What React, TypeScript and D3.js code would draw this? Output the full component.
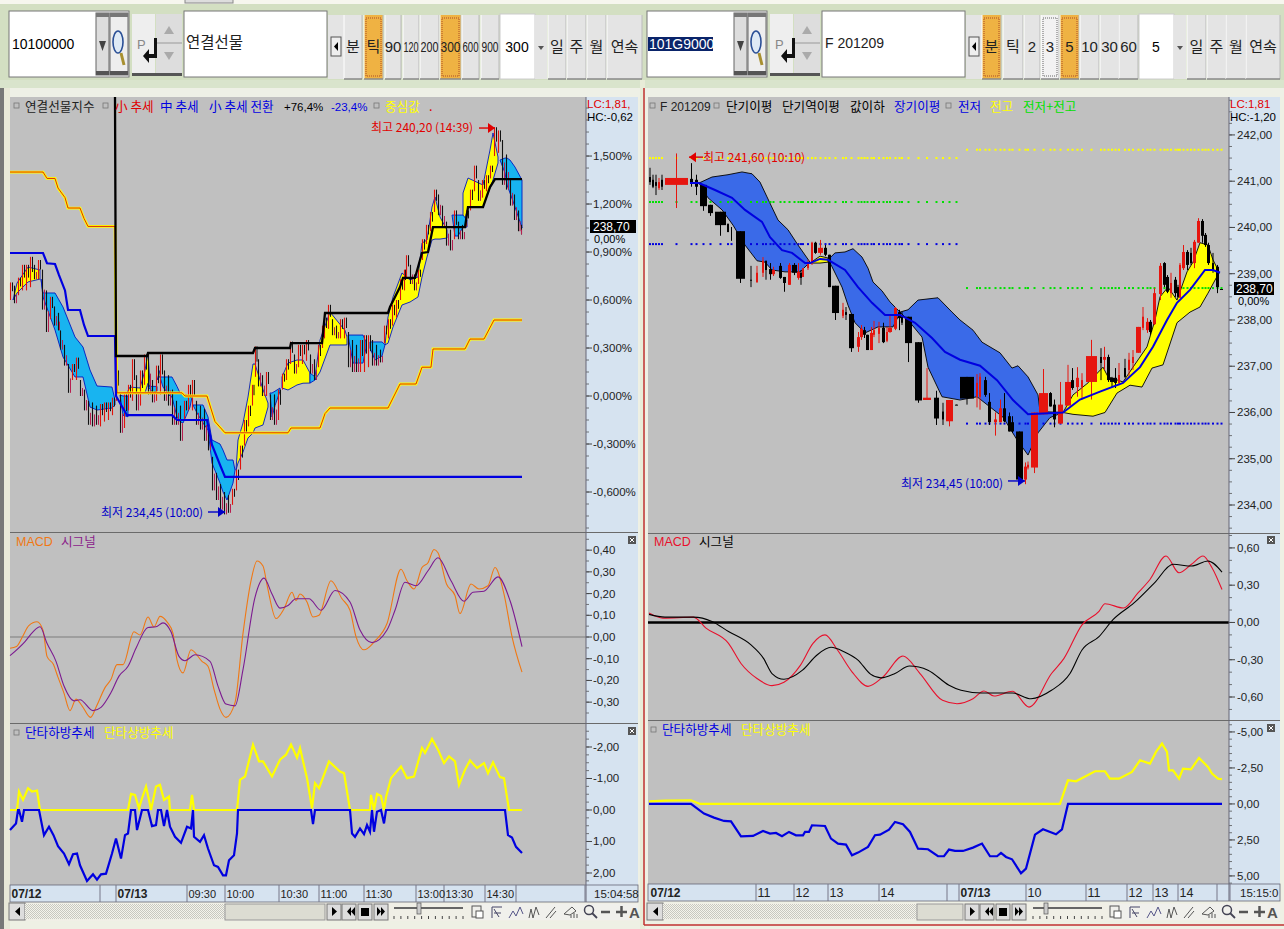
import * as d3 from 'd3';

type P = [number, number];

const KR = "'Noto Sans CJK KR', sans-serif";
const LAT = "'Liberation Sans', sans-serif";

// ---- left chart (연결선물, tick bars) : x is tick count, y is percent
const leftBars: [number, number, number][] = [
  [0,.71,.60],[4,.69,.58],[8,.74,.63],[12,.82,.66],[16,.82,.66],[20,.87,.68],[24,.82,.73],[28,.85,.73],[32,.79,.54],[36,.66,.40],
  [40,.62,.48],[44,.56,.44],[48,.52,.41],[50,.41,.29],[54,.32,.19],[58,.20,.02],[62,.20,.10],[66,.24,.10],[70,.10,0],[74,.04,-.09],
  [78,-.03,-.18],[82,-.04,-.19],[86,-.06,-.18],[90,-.05,-.19],[94,-.04,-.16],[98,-.04,-.15],[102,-.01,-.12],[106,.16,-.03],[110,.01,-.23],[114,.01,-.20],
  [118,.07,-.09],[122,.23,-.03],[126,.13,-.09],[130,.16,-.06],[134,.26,.07],[138,.27,.01],[142,.10,-.04],[146,.19,-.03],[150,.26,.01],[154,.16,-.03],
  [158,.13,-.06],[162,.04,-.18],[166,-.03,-.18],[170,-.06,-.28],[174,-.03,-.15],[178,.07,-.09],[182,.10,-.09],[186,-.03,-.18],[190,-.06,-.21],[194,-.08,-.28],
  [198,-.20,-.34],[202,-.38,-.59],[206,-.48,-.65],[210,-.55,-.71],[214,-.60,-.74],[218,-.62,-.73],[222,-.58,-.68],[226,-.46,-.59],[230,-.31,-.46],[234,-.15,-.31],
  [238,-.06,-.19],[242,.07,-.06],[245,.31,.12],[248,.23,.06],[252,.13,0],[256,.15,0],[260,.01,-.15],[264,.01,-.18],[268,.04,-.15],[272,.14,.04],
  [276,.23,.10],[280,.34,.20],[284,.26,.14],[288,.32,.18],[292,.32,.20],[296,.35,.22],[300,.26,.14],[304,.23,.10],[308,.32,.18],[312,.44,.30],
  [314,.49,.36],[318,.57,.42],[322,.48,.38],[326,.44,.36],[330,.48,.36],[334,.49,.36],[338,.40,.18],[342,.35,.15],[346,.32,.15],[350,.35,.15],
  [354,.38,.15],[358,.38,.18],[362,.35,.19],[366,.32,.19],[370,.29,.21],[374,.44,.33],[378,.48,.36],[382,.57,.44],[386,.60,.49],[390,.73,.60],
  [394,.79,.66],[396,.88,.74],[400,.82,.70],[404,.76,.66],[408,.79,.70],[412,.98,.85],[416,1.07,.95],[420,1.15,1.03],[424,1.29,1.15],[428,1.26,1.13],
  [432,1.19,1.06],[436,1.09,.94],[440,1.04,.91],[444,1.16,.98],[448,1.09,.98],[452,1.07,.98],[456,1.16,1.06],[460,1.29,1.16],[464,1.44,1.28],[468,1.35,1.22],
  [472,1.35,1.24],[476,1.38,1.28],[480,1.44,1.36],[484,1.68,1.50],[488,1.66,1.52],[492,1.60,1.32],[496,1.51,1.29],[500,1.35,1.19],[504,1.26,1.10],[508,1.16,1.03],[511,1.07,1.01],
];

const leftCenter: P[] = [
  [0,1.40],[33,1.40],[37,1.36],[45,1.36],[48,1.30],[55,1.24],[58,1.175],[70,1.175],[74,1.11],[78,1.06],[105,1.06],[106,.40],[107,.02],
  [172,.02],[175,0],[197,0],[205,-.16],[215,-.23],[278,-.23],[281,-.20],[310,-.20],[315,-.11],[320,-.075],[378,-.075],[390,.075],[406,.075],
  [412,.18],[421,.18],[423,.294],[455,.294],[460,.356],[474,.356],[484,.475],[512,.475],
];
const leftSmallTrend: P[] = [
  [0,.894],[33,.894],[37,.83],[45,.825],[49,.756],[55,.66],[58,.5375],[70,.5375],[74,.444],[78,.375],[105,.375],[106,0],[117,-.12],[162,-.12],
  [167,-.15],[187,-.15],[197,-.15],[202,-.306],[210,-.431],[215,-.506],[512,-.506],
];
const leftMidTrend: P[] = [
  [105,1.869],[106,.25],[137,.25],[138,.269],[243,.269],[245,.30],[280,.30],[281,.331],[312,.331],[315,.519],[378,.519],[380,.556],[390,.681],
  [393,.738],[405,.738],[410,.85],[412,.894],[418,.90],[423,1.056],[455,1.056],[458,1.181],[473,1.181],[480,1.306],[485,1.356],[512,1.356],
];

// [x, upper, lower]
const leftRiseClouds: [number, number, number][][] = [
  [[3,.60,.60],[7,.706,.644],[18,.806,.713],[30,.788,.731]],
  [[117,.02,.02],[120,.056,.02],[130,.05,.02],[135,.16,.02],[138,.269,.08],[140,.07,.06]],
  [[147,.1,.1],[150,.16,.125]],
  [[226,-.463,-.463],[228,-.275,-.419],[233,-.169,-.35],[238,-.006,-.2625],[243,.2,-.231],[245,.2,-.2],[253,.04,-.181],[258,-.044,-.069]],
  [[272,.119,.05],[278,.206,.0375],[287,.225,.069],[293,.225,.08],[300,.144,.081]],
  [[305,.12,.1],[310,.35,.15],[320,.525,.319],[335,.41,.319],[337,.369,.32]],
  [[375,.32,.32],[378,.494,.33],[383,.619,.431],[392,.769,.569],[400,.725,.5875],[408,.744,.619],[412,.956,.744],[417,.975,.869],[422,1.181,.975],[425,1.244,.981],[430,1.119,.981],[437,1.0375,.9875]],
  [[453,1.269,1.056],[458,1.3625,1.181],[473,1.319,1.181],[480,1.5375,1.3],[483,1.644,1.35],[488,1.494,1.456]],
];
const leftFallClouds: [number, number, number][][] = [
  [[31,.731,.731],[33,.644,.619],[45,.644,.4125],[53,.556,.244],[65,.369,.119],[73,.306,.119],[80,.1625,-.069],[87,.0625,-.0875],[102,.056,-.075],[105,-.025,-.056]],
  [[110,.006,.006],[113,0,-.12],[118,0,-.13]],
  [[138,.06,.06],[143,.06,.02],[147,.06,.03]],
  [[150,.119,.119],[153,.119,.056],[160,.119,0],[162,.119,-.006],[167,.06,-.131],[170,.019,-.16],[173,.01,-.169],[180,0,-.069],[182,-.006,-.006]],
  [[183,-.056,-.056],[187,-.056,-.106],[193,-.056,-.169],[198,-.131,-.2125],[202,-.275,-.419],[210,-.3,-.544],[213,-.338,-.6],[217,-.4,-.65],[223,-.4,-.544],[225,-.463,-.463]],
  [[260,.019,.019],[262,.019,-.131],[265,.03,-.06],[270,.05,.03]],
  [[300,.144,.081],[305,.12,.1]],
  [[338,.381,.381],[343,.381,.206],[353,.381,.206],[356,.338,.3]],
  [[360,.338,.3],[365,.338,.225],[372,.338,.25],[375,.32,.32]],
  [[442,1.131,1.131],[445,1.131,1.0],[448,1.131,1.0],[453,1.131,1.056],[457,1.1,1.056]],
  [[490,1.475,1.475],[495,1.4875,1.394],[497,1.4875,1.319],[500,1.475,1.269],[505,1.431,1.181],[512,1.35,1.05]],
];

const leftMacd: P[] = [
  [0,-.052],[6.5,-.044],[12.6,.002],[18.8,.052],[27,.07],[33,.032],[37,-.089],[43.5,-.127],[47.6,-.18],[53.8,-.256],[60,-.339],[66,-.286],[72,-.317],[80.5,-.37],[86.7,-.317],
  [95,-.233],[101,-.195],[107,-.127],[113,-.127],[124,.024],[130,.009],[138,.092],[144,.047],[150,.095],[157,.07],[163,.017],[167,-.105],[173,-.165],[181,-.059],[192,-.112],
  [198,-.135],[204,-.241],[210,-.332],[216,-.37],[225,-.302],[233,.017],[241,.259],[247,.35],[253,.327],[257.5,.229],[266,.085],[274,.13],[282,.206],[286,.168],[290,.198],
  [297,.161],[303,.092],[309,.1],[321,.259],[332,.176],[340,.123],[346,.002],[354,-.059],[364.5,-.021],[377,.062],[391,.312],[397,.259],[404,.221],[412,.32],[418,.342],
  [424,.403],[428,.388],[436.5,.244],[445,.191],[450,.108],[461,.244],[469,.221],[478,.236],[485,.32],[494,.198],[502,.002],[512,-.162],
];
const leftSignal: P[] = [
  [0,-.086],[15,-.021],[23,.024],[30,.047],[37,-.029],[46,-.112],[54,-.226],[64,-.294],[70,-.289],[83,-.339],[91,-.324],[101,-.256],[109,-.18],[118,-.135],[126,-.052],
  [138,.044],[146,.047],[153,.065],[161,.024],[169,-.089],[175,-.109],[185,-.082],[200,-.112],[208,-.226],[216,-.309],[225,-.317],[233,-.15],[245,.183],[254,.271],[262,.198],
  [270,.133],[278,.145],[286,.176],[299,.176],[311,.123],[325,.214],[340,.161],[350,.032],[362,-.026],[377,.032],[385,.123],[395,.252],[406,.236],[418,.305],[428,.365],
  [441,.259],[454,.165],[463,.206],[474,.211],[488,.277],[500,.168],[512,-.044],
];

const leftUpTrend: P[] = [
  [0,0],[7,0],[9,-.585],[13,-.32],[18,-.69],[22,-.585],[27,-.617],[30,0],[118,0],[121,-.51],[125,-.479],[129,-.05],[132,-.372],[136,-.745],[139,-.32],[141,0],[146,-.745],[150,-.798],
  [154,-.32],[159,-.426],[160,0],[180,0],[182,-.479],[184,0],[227,0],[230,-.957],[235,-1.064],[243,-2.074],[249,-1.543],[253,-1.543],[262,-1.064],[270,-1.596],[276,-1.755],[281,-2.074],
  [287,-1.66],[290,-1.968],[297,-1.011],[302,-.053],[305,-.851],[309,-.691],[319,-1.543],[330,-1.223],[334,-1.17],[340,0],[360,0],[361,-.479],[364,0],[367,-.511],[371,-.447],[374,0],
  [376,-.404],[381,-1.011],[391,-1.383],[397,-1.011],[404,-1.064],[412,-1.968],[415,-1.809],[422,-2.255],[428,-1.915],[434,-1.489],[439,-1.702],[445,-1.543],[449,-.798],[455,-1.277],
  [460,-1.574],[467,-1.33],[474,-1.489],[478,-1.17],[483,-1.511],[490,-1.043],[494,-1.011],[499,0],[512,0],
];
const leftDownTrend: P[] = [
  [0,.638],[6,.426],[8,0],[9,0],[12,.372],[14,0],[29,0],[34,.798],[39,.532],[43.5,.798],[48,1.149],[54,1.383],[59,1.723],[63,1.404],[67,1.383],[70,1.755],[77,2.255],[83,2.043],[87,2.213],
  [91,2.043],[96,2.021],[99,1.702],[102,1.383],[106,.904],[111,1.543],[115,.798],[118,.745],[121,0],[125,0],[127,.638],[132,0],[138,0],[142,.511],[146,.479],[148,0],[151,0],[154,.511],
  [157,0],[160,.532],[165,.851],[171,1.043],[177,.532],[181,.585],[183,0],[184,.851],[190,1.011],[194,.798],[198,1.223],[204,1.755],[208,1.809],[213,2.074],[216,2.074],[219,1.596],
  [224,1.436],[227,.745],[228,0],[301,0],[303,.447],[305,0],[340,0],[342,.745],[345,.851],[350,.585],[354,.766],[357,.479],[360,.691],[362,0],[364,.691],[367,.053],[371,0],[374,.426],
  [376,0],[495,0],[498,.798],[502,.872],[506,1.17],[512,1.362],
];

const leftPctTicks = [1.5, 1.2, .9, .6, .3, 0, -.3, -.6];
const leftMacdTicks = [.4, .3, .2, .1, 0, -.1, -.2, -.3];
const leftTrendTicks = [-2, -1, 0, 1, 2];
const leftTimeTicks: [number, string, boolean][] = [
  [0,'07/12',true],[106,'07/13',true],[177,'09:30',false],[215,'10:00',false],[269,'10:30',false],[309,'11:00',false],
  [354,'11:30',false],[406,'13:00',false],[434,'13:30',false],[475,'14:30',false],
];
const leftTimeSeps = [90, 106, 177, 215, 269, 309, 354, 406, 434, 475, 506];

// ---- right chart (F 201209, 5 min candles, width follows volume)
// [x0, x1, open, close, low, high]
const candles: [number, number, number, number, number, number][] = [
  [0,2,241.09,240.98,240.92,241.29],[3,5,241.03,240.88,240.85,241.14],[6,8,240.98,240.90,240.70,241.14],[9,11,240.85,240.98,240.81,241.07],[12,14,241.03,240.88,240.81,241.14],
  [16,39,240.92,241.07,240.42,241.60],[41,44,241.05,240.96,240.88,241.39],[46,49,241.03,240.88,240.70,241.14],[51,58,240.92,240.46,240.36,240.92],[59,64,240.49,240.31,240.25,240.49],
  [66,77,240.34,240.05,239.82,240.34],[78,80,240.08,239.90,239.90,240.08],[82,83,239.95,239.94,239.71,240.01],[87,96,239.92,238.89,238.80,239.92],[101,103,238.87,238.86,238.71,239.17],
  [107,109,238.82,239.02,238.80,239.17],[113,115,239.02,239.28,238.93,239.36],[116,118,239.28,239.08,238.87,239.28],[120,123,239.10,238.99,238.87,239.23],[123,126,238.99,239.08,238.95,239.15],
  [130,133,239.17,238.91,238.89,239.23],[134,137,238.93,238.80,238.61,238.93],[139,142,238.76,239.19,238.76,239.23],[143,148,239.19,239.02,238.97,239.23],[148,151,238.91,239.04,238.87,239.23],
  [151,153,239.02,238.91,238.76,239.08],[153,155,238.93,239.12,238.93,239.12],[158,160,239.12,239.23,239.08,239.30],[162,164,239.23,239.67,239.19,239.69],[165,168,239.67,239.45,239.43,239.69],
  [169,174,239.45,239.56,239.41,239.73],[175,178,239.56,239.41,239.38,239.62],[179,182,239.41,238.71,238.71,239.41],[183,190,238.74,238.15,238.00,238.74],[193,195,238.09,238.22,238.04,238.37],
  [196,198,238.17,238.11,238.00,238.28],[200,205,238.13,237.39,237.31,238.13],[208,211,237.42,237.63,237.31,237.74],[211,214,237.63,237.81,237.57,237.89],[214,217,237.78,237.68,237.61,237.85],
  [217,220,237.68,237.35,237.35,237.68],[221,224,237.35,237.72,237.35,237.85],[224,226,237.68,237.78,237.63,237.98],[229,231,237.70,237.83,237.50,237.96],[233,236,237.83,237.52,237.50,237.94],
  [237,239,237.55,237.74,237.52,237.85],[239,243,237.74,237.83,237.72,238.11],[245,248,237.81,238.26,237.78,238.28],[249,252,238.17,238.04,237.78,238.22],[252,254,238.07,237.94,237.89,238.17],
  [256,263,238.07,237.50,237.09,238.07],[266,273,237.52,236.26,236.21,237.52],[274,282,236.27,236.32,236.27,236.96],[285,290,236.32,235.87,235.73,236.47],[293,295,236.02,235.85,235.73,236.21],
  [297,304,235.81,236.27,235.70,236.27],[306,309,236.17,236.16,236.16,236.17],[311,325,236.77,236.30,236.17,236.77],[327,329,236.34,236.64,236.11,236.83],[330,332,236.34,236.77,236.06,236.85],
  [335,338,236.70,236.38,236.34,236.77],[339,342,236.23,235.79,235.73,236.42],[345,348,235.79,235.85,235.50,236.00],[350,353,235.79,236.09,235.79,236.28],[354,357,236.09,235.81,235.79,236.42],
  [359,362,235.92,235.59,235.59,236.00],[362,365,235.79,235.59,235.56,235.92],[367,374,235.59,234.55,234.55,235.59],[375,378,234.55,234.83,234.45,234.92],[378,380,234.81,234.87,234.77,234.94],
  [382,389,234.81,236.00,234.69,236.00],[390,399,235.96,236.42,235.96,236.94],[400,403,236.42,236.13,236.13,236.44],[404,407,236.17,235.85,235.68,236.28],[409,414,235.76,236.17,235.76,236.66],
  [416,422,236.15,236.66,236.15,237.03],[422,425,236.70,236.53,236.49,236.96],[427,430,236.55,236.75,236.34,236.98],[432,434,236.55,236.70,236.28,236.85],[437,448,236.66,237.22,236.28,237.57],
  [451,453,237.20,237.07,236.70,237.39],[454,457,237.14,237.20,236.92,237.42],[458,461,237.20,236.70,236.66,237.25],[461,465,236.75,236.66,236.55,236.77],[465,468,236.75,236.64,236.53,236.96],
  [469,471,236.64,236.81,236.59,237.07],[475,477,236.96,236.77,236.75,237.16],[479,481,236.92,237.14,236.77,237.29],[483,485,237.07,237.20,236.92,237.35],[487,492,237.29,237.85,237.29,237.85],
  [493,495,237.83,238.07,237.78,238.28],[497,500,237.78,237.96,237.72,238.04],[500,503,237.96,237.74,237.68,238.00],[504,507,237.91,238.58,237.89,238.69],[510,513,238.56,239.17,238.43,239.23],
  [514,517,239.23,238.76,238.71,239.25],[517,520,238.93,238.61,238.58,238.97],[521,523,238.58,238.80,238.48,239.02],[525,528,238.87,238.58,238.50,238.93],[528,530,238.71,238.50,238.48,238.76],
  [530,532,238.48,239.19,238.48,239.23],[533,536,239.12,239.47,239.08,239.62],[537,540,239.47,239.19,239.08,239.51],[541,543,239.45,239.23,239.19,239.56],[544,547,239.23,239.69,239.12,239.73],
  [548,551,239.67,240.14,239.67,240.20],[552,555,240.14,239.82,239.67,240.18],[555,558,239.84,239.62,239.58,239.88],[558,561,239.62,239.23,239.19,239.67],[563,565,239.23,239.08,239.02,239.45],
  [567,570,239.15,238.71,238.58,239.19],[571,574,238.67,238.66,238.66,238.67],
];

const fallCloudTops: P[][] = [
  [[50,240.96],[63,241.09],[79,241.14],[93,241.20],[103,241.16],[111,240.98],[118,240.66],[129,240.16],[139,239.95],[149,239.62],[161,239.25]],
  [[179,239.30],[186,239.45],[196,239.47],[204,239.54],[213,239.36],[219,239.12],[224,238.82],[233,238.63],[241,238.39],[251,238.17]],
  [[251,238.17],[259,238.22],[269,238.43],[289,238.48],[303,238.17],[311,238.00],[324,237.78],[333,237.52],[351,237.29],[363,236.96],[369,237.01],[379,236.77],[389,236.38],[391,236.02],[414,236.00]],
];
const fallCloudBottoms: P[][] = [
  [[50,240.96],[59,240.64],[73,240.38],[84,240.05],[96,239.62],[108,239.28],[116,239.25],[123,239.08],[136,239.04],[151,239.04],[161,239.25]],
  [[179,239.30],[183,239.15],[193,238.71],[199,238.32],[206,237.94],[216,237.72],[229,237.85],[244,237.85],[251,238.15]],
  [[251,238.17],[259,238.00],[273,237.63],[279,236.98],[293,236.34],[311,236.27],[328,236.34],[341,236.12],[354,235.90],[368,235.41],[379,235.08],[389,235.56],[401,235.89],[414,236.00]],
];
const riseCloudTops: P[][] = [
  [[161,239.23],[171,239.38],[179,239.34]],
  [[414,236.00],[424,236.38],[439,236.64],[454,236.98],[459,236.77],[474,236.66],[484,236.98],[498,237.42],[506,238.00],[511,238.50],[519,238.71],[528,238.43],[538,239.04],[544,239.25],[551,239.67],[559,239.62],[564,239.30],[570,239.04]],
];
const riseCloudBottoms: P[][] = [
  [[161,239.23],[171,239.23],[179,239.25]],
  [[414,236.00],[424,235.96],[444,235.92],[456,236.00],[468,236.42],[481,236.59],[493,236.55],[503,236.96],[514,237.03],[528,237.94],[541,238.17],[551,238.28],[559,238.58],[570,239.02]],
];
const longAverage: P[] = [
  [41,240.96],[50,240.96],[66,240.81],[83,240.64],[96,240.38],[113,240.12],[121,239.79],[133,239.51],[143,239.45],[156,239.23],[161,239.23],[171,239.32],[179,239.30],
  [196,239.08],[209,238.71],[223,238.37],[236,238.11],[251,238.11],[266,237.94],[283,237.61],[296,237.31],[311,237.14],[331,237.01],[348,236.70],[364,236.27],[379,235.96],[414,236.00],
  [431,236.28],[451,236.45],[474,236.64],[491,236.98],[504,237.42],[518,238.00],[528,238.37],[541,238.65],[556,239.08],[564,239.08],[571,239.02],
];

const prevLow = [239.64, 235.76];
const prevHigh = [241.50, 241.68];
const prevMid = [240.55, 238.69];

const rightMacd: P[] = [
  [0,.076],[14,.035],[44.5,.043],[57,-.046],[79.5,-.168],[92,-.33],[108,-.451],[123,-.508],[135,-.481],[151.5,-.343],[164,-.168],[176,-.1],[188.5,-.222],[203,-.397],[219,-.514],[234,-.438],
  [254,-.27],[271,-.411],[293.5,-.627],[308,-.654],[324,-.614],[335,-.551],[345,-.592],[363.5,-.554],[380,-.681],[402.5,-.411],[415,-.289],[433,-.019],[450,.089],[456,.151],[474.5,.116],
  [489,.238],[501,.346],[517,.535],[530,.4],[542.5,.468],[554,.535],[563,.441],[573,.265],
];
const rightSignal: P[] = [
  [0,.065],[16,.043],[44.5,.043],[63,.008],[79.5,-.073],[102,-.181],[114.5,-.289],[123,-.411],[135,-.457],[153.5,-.384],[168,-.262],[182,-.2],[195,-.235],[209,-.303],[221.5,-.416],[232,-.446],
  [246,-.411],[260.5,-.351],[279,-.384],[300,-.505],[312,-.546],[332.5,-.568],[363.5,-.568],[382,-.614],[402.5,-.546],[421,-.411],[433,-.222],[450,-.114],[464,.022],[485,.157],[505.5,.319],
  [524,.468],[542.5,.454],[559,.495],[573,.405],
];
const rightUpTrend: P[] = [
  [0,-.185],[16,-.231],[42,-.255],[51,0],[411,0],[419,-1.644],[427,-1.574],[446,-2.269],[456,-2.269],[461,-1.759],[470,-1.759],[483,-2.222],[491,-3.032],[501,-2.801],[507,-3.611],[513,-4.19],
  [518,-3.611],[520,-2.338],[524,-2.338],[530,-1.759],[534,-2.454],[542,-2.407],[550,-3.194],[559,-2.569],[563,-2.106],[569,-1.759],[573,-1.713],
];
const rightDownTrend: P[] = [
  [0,0],[42,0],[55,.671],[65,.949],[75,1.181],[82,1.204],[92,2.245],[104,2.222],[114,1.875],[121,2.06],[127,2.014],[133,2.245],[140,1.944],[147,2.176],[154,2.176],[156,1.944],[160,1.944],
  [163,1.481],[176,1.528],[182,2.407],[189,2.755],[197,2.824],[203,3.565],[209,3.38],[219,2.986],[226,2.176],[231,2.13],[240,1.782],[246,1.25],[254,1.412],[261,1.944],[269,3.102],[279,3.148],
  [289,3.634],[295,3.634],[300,3.171],[306,3.264],[314,3.264],[324,3.032],[333,2.755],[341,3.634],[348,3.634],[352,3.403],[357,3.681],[363,3.843],[372,4.815],[377,4.491],[386,2.13],[394,1.759],
  [407,2.106],[413,1.759],[419,0],[573,0],
];

const rightPriceTicks = [242, 241, 240, 239, 238, 237, 236, 235, 234];
const rightMacdTicks = [.6, .3, 0, -.3, -.6];
const rightTrendTicks = [-5, -2.5, 0, 2.5, 5];
const rightTimeTicks: [number, string, boolean][] = [
  [0,'07/12',true],[107,'11',false],[145,'12',false],[179,'13',false],[230,'14',false],[310,'07/13',true],
  [377,'10',false],[437,'11',false],[478,'12',false],[504,'13',false],[529,'14',false],
];
const rightTimeSeps = [107, 145, 179, 230, 298, 310, 377, 437, 478, 504, 529, 568];

// ---- scales
const leftX = d3.scaleLinear().domain([0, 512]).range([10, 522]);
const rightX = d3.scaleLinear().domain([0, 573]).range([649, 1222]);
const leftMainY = d3.scaleLinear().domain([-.85, 1.869]).range([532, 97]);
const leftMacdY = d3.scaleLinear().domain([-.396, .479]).range([723, 533]);
const leftTrendY = d3.scaleLinear().domain([2.381, -2.73]).range([885, 724]);
const rightMainY = d3.scaleLinear().domain([233.395, 242.82]).range([533, 97]);
const rightMacdY = d3.scaleLinear().domain([-.785, .72]).range([720, 533]);
const rightTrendY = d3.scaleLinear().domain([5.56, -5.83]).range([884, 720]);

type Sc = d3.ScaleLinear<number, number>;

const pathOf = (x: Sc, y: Sc, pts: P[], smooth = false) =>
  (smooth ? d3.line<P>().curve(d3.curveMonotoneX) : d3.line<P>())
    .x(d => x(d[0]))
    .y(d => y(d[1]))(pts) ?? '';

const fmt = (v: number, digits: number) =>
  d3.format(`.${digits}f`)(v).replace('.', ',').replace('\u2212', '-');

const Txt = ({ x, y, c = '#000', s = 12, f = KR, w, a, fit, children }: any) => (
  <text x={x} y={y} fill={c} fontSize={s} fontFamily={f} fontWeight={w} textAnchor={a}
    textLength={fit} lengthAdjust={fit ? 'spacingAndGlyphs' : undefined}>{children}</text>
);

const Sq = ({ x, y }: { x: number; y: number }) => (
  <rect x={x} y={y} width={5} height={5} fill="none" stroke="#777" strokeWidth={0.8} />
);

// axis strip to the right of a plot
const Axis = ({ scale, x0, ticks, minor, digits, suffix = '', labelX }: any) => {
  const [lo, hi] = scale.domain();
  const minors = d3.range(Math.ceil(Math.min(lo, hi) / minor), Math.floor(Math.max(lo, hi) / minor) + 1).map((k: number) => k * minor);
  return (
    <g>
      {minors.map((v: number, i: number) => (
        <line key={i} x1={x0} x2={x0 + 3} y1={scale(v)} y2={scale(v)} stroke="#555" strokeWidth={0.8} />
      ))}
      {ticks.map((v: number) => (
        <g key={v}>
          <line x1={x0} x2={x0 + 6} y1={scale(v)} y2={scale(v)} stroke="#444" />
          <Txt x={labelX} y={scale(v) + 4} s={11.5} f={LAT} c="#222">{fmt(v, digits)}{suffix}</Txt>
        </g>
      ))}
    </g>
  );
};

const CloseBox = ({ x, y }: { x: number; y: number }) => (
  <g>
    <rect x={x - 4} y={y - 4} width={8} height={8} fill="#555" />
    <path d={`M${x - 2} ${y - 2}L${x + 2} ${y + 2}M${x + 2} ${y - 2}L${x - 2} ${y + 2}`} stroke="#fff" strokeWidth={1} />
  </g>
);

const Btn = ({ x0, x1, label, on, dotted, y0 = 15, y1 = 79 }: any) => {
  const wide = label.length === 3;
  return (
    <g>
      <rect x={x0} y={y0} width={x1 - x0} height={y1 - y0} fill={on ? '#efb243' : dotted ? '#f2f2f2' : '#e4e4e4'} />
      <line x1={x0} x2={x0} y1={y0} y2={y1} stroke="#fff" />
      <line x1={x1} x2={x1} y1={y0} y2={y1} stroke="#bbb" />
      <line x1={x0} x2={x1} y1={y1} y2={y1} stroke="#888" strokeWidth={1.5} />
      {(on || dotted) && (
        <rect x={x0 + 2} y={y0 + 3} width={x1 - x0 - 4} height={y1 - y0 - 6} fill="none" stroke={on ? '#a03020' : '#444'} strokeWidth={0.8} strokeDasharray="1 1" />
      )}
      <Txt x={(x0 + x1) / 2} y={(y0 + y1) / 2 + 5} s={wide ? 14 : 15} f={/\d/.test(label) ? LAT : KR} a="middle" c="#222"
        fit={wide ? x1 - x0 - 1 : undefined}>{label}</Txt>
    </g>
  );
};

const leftButtons: [number, number, string, boolean?, boolean?][] = [
  [344,362,'분'],[364,383,'틱',true],[385,401,'90'],[403,419,'120'],[420,439,'200'],[440,461,'300',true],[462,479,'600'],[481,499,'900'],
  [548,566,'일'],[567,586,'주'],[587,606,'월'],[607,642,'연속'],
];
const rightButtons: [number, number, string, boolean?, boolean?][] = [
  [982,1001,'분',true],[1003,1023,'틱'],[1024,1040,'2'],[1041,1059,'3',false,true],[1060,1079,'5',true],[1080,1099,'10'],[1100,1119,'30'],[1119,1138,'60'],
  [1187,1206,'일'],[1207,1226,'주'],[1226,1246,'월'],[1246,1280,'연속'],
];

const Toolbar = ({ dx, code, selected, name, nameSize, nameX, buttons, box, boxX }: any) => (
  <g>
    <rect x={9 + dx} y={11} width={120} height={66} fill="#fff" stroke="#777" />
    {selected && <rect x={648} y={37} width={65} height={14} fill="#0a246a" />}
    <Txt x={selected ? 649 : 12} y={49} s={14} f={LAT} c={selected ? '#fff' : '#000'}>{code}</Txt>
    <rect x={96 + dx} y={13} width={13} height={62} fill="#ddd" stroke="#666" />
    <rect x={96 + dx} y={13} width={13} height={4} fill="#777" />
    <rect x={96 + dx} y={71} width={13} height={4} fill="#555" />
    <path d={`M${99 + dx} 41h7l-3.5 10z`} fill="#444" />
    <rect x={110 + dx} y={13} width={18} height={62} fill="#eee" stroke="#666" />
    <rect x={110 + dx} y={13} width={18} height={4} fill="#777" />
    <rect x={110 + dx} y={71} width={18} height={4} fill="#555" />
    <ellipse cx={118 + dx} cy={42} rx={5} ry={11} fill="#dfeaf5" stroke="#2a4f96" strokeWidth={1.6} />
    <line x1={121 + dx} y1={53} x2={124 + dx} y2={65} stroke="#a89030" strokeWidth={3} />
    <rect x={132 + dx} y={14} width={23} height={62} fill="#eee" />
    <rect x={132 + dx} y={73} width={50} height={3} fill="#555" />
    <rect x={156 + dx} y={14} width={26} height={59} fill="#ddd" />
    <path d={`M${164 + dx} 34l5-8 5 8zM${164 + dx} 52l5 8 5-8z`} fill="#aaa" />
    <line x1={156 + dx} x2={182 + dx} y1={43} y2={43} stroke="#bbb" strokeWidth={2} />
    <Txt x={137 + dx} y={49} s={13} f={LAT} c="#888">P</Txt>
    <path d={`M${154 + dx} 38v16h-5v-5l-6 7 6 7v-5h8v-20z`} fill="#111" />
    <rect x={184 + dx} y={11} width={143} height={66} fill="#fff" stroke="#777" />
    <Txt x={nameX} y={48} s={nameSize} f={name.startsWith('F') ? LAT : KR} c="#222">{name}</Txt>
    <rect x={328 + dx} y={15} width={16} height={64} fill="#e4e4e4" />
    <rect x={331 + dx} y={37} width={10} height={19} fill="#eee" stroke="#555" />
    <path d={`M${338 + dx} 42v9l-4-4.5z`} fill="#000" />
    {buttons.map(([a, b, l, on, dot]: any) => (
      <Btn key={a} x0={a} x1={b} label={l} on={on} dotted={dot} />
    ))}
    <rect x={boxX} y={14} width={35} height={65} fill="#fff" stroke="#ccc" />
    <Txt x={boxX + 17} y={52} s={14} f={LAT} a="middle">{box}</Txt>
    <rect x={boxX + 35} y={15} width={12} height={64} fill="#e4e4e4" />
    <path d={`M${boxX + 38} 46h6l-3 4z`} fill="#555" />
  </g>
);

const ScrollBar = ({ x0, thumb0, thumb1, play, sliderX, knob, iconX, plotEnd }: any) => (
  <g>
    <rect x={x0} y={903} width={plotEnd - x0} height={18} fill="#f0efe6" />
    <rect x={x0} y={903} width={16} height={17} fill="#ddd" stroke="#777" />
    <path d={`M${x0 + 11} 907v9l-5-4.5z`} fill="#000" />
    <rect x={x0 + 16} y={904} width={thumb0 - x0 - 16} height={15} fill="url(#dither)" />
    <rect x={thumb0} y={904} width={thumb1 - thumb0} height={16} fill="#dcdcd2" stroke="#999" />
    {[0, 15, 31, 47].map((d, i) => (
      <rect key={i} x={play + d} y={904} width={14} height={16} fill="#ddd" stroke="#777" />
    ))}
    <path d={`M${play + 5} 907v9l5-4.5z`} fill="#000" />
    <path d={`M${play + 24} 907v9l-4-4.5zM${play + 28} 907v9l-4-4.5z`} fill="#000" />
    <rect x={play + 34} y={908} width={8} height={8} fill="#000" />
    <path d={`M${play + 50} 907v9l4-4.5zM${play + 54} 907v9l4-4.5z`} fill="#000" />
    <line x1={sliderX} x2={sliderX + 69} y1={908} y2={908} stroke="#666" strokeWidth={2} />
    <rect x={knob - 2} y={903} width={4} height={11} fill="#ccc" stroke="#555" strokeWidth={0.7} />
    {d3.range(11).map(i => (
      <line key={i} x1={sliderX + i * 6.9} x2={sliderX + i * 6.9} y1={916} y2={919} stroke="#444" />
    ))}
    <rect x={iconX} y={904} width={plotEnd - iconX} height={16} fill="#f0f0ec" />
    <g fill="none" stroke="#555" strokeWidth={1}>
      <rect x={iconX + 1} y={906} width={9} height={11} />
      <rect x={iconX + 5} y={911} width={7} height={7} fill="#fff" />
      <path d={`M${iconX + 21} 918V907h10M${iconX + 23} 909l5 8M${iconX + 23} 913h7`} stroke="#446" />
      <path d={`M${iconX + 38} 918l4-7 3 5 4-9 3 7`} stroke="#558" />
      <path d={`M${iconX + 58} 918l2-9 2 9 3-11 3 8`} />
      <path d={`M${iconX + 75} 918l9-11M${iconX + 79} 918l6-7`} />
      <path d={`M${iconX + 93} 914l8-7 4 4-6 4zM${iconX + 100} 918v-3M${iconX + 103} 918v-5M${iconX + 106} 918v-4`} />
      <circle cx={iconX + 118} cy={910} r={4.5} stroke="#445" strokeWidth={1.5} />
      <line x1={iconX + 121} y1={913} x2={iconX + 126} y2={918} stroke="#445" strokeWidth={1.8} />
    </g>
    <path d={`M${iconX + 130} 912h9`} stroke="#555" strokeWidth={2.5} />
    <path d={`M${iconX + 145} 912h11M${iconX + 150.5} 906v11`} stroke="#555" strokeWidth={2.5} />
    <Txt x={iconX + 158} y={918} s={15} f={LAT} w="bold" c="#555">A</Txt>
  </g>
);

const Arrow = ({ x1, x2, y, c }: { x1: number; x2: number; y: number; c: string }) => {
  const dir = x2 > x1 ? -1 : 1;
  return (
    <g>
      <line x1={x1} x2={x2} y1={y} y2={y} stroke={c} strokeWidth={1.4} />
      <path d={`M${x2} ${y}l${dir * 7} -5v10z`} fill={c} />
    </g>
  );
};

const LeftChart = () => {
  const area = d3.area<[number, number, number]>()
    .x(d => leftX(d[0]))
    .y0(d => leftMainY(d[2]))
    .y1(d => leftMainY(d[1]));
  return (
    <g>
      <rect x={10} y={97} width={576} height={788} fill="#c0c0c0" />
      <rect x={586} y={97} width={52} height={788} fill="#d6e3f0" />
      {leftRiseClouds.map((s, i) => <path key={i} d={area(s) ?? ''} fill="#ffff00" stroke="#0018c0" strokeWidth={0.9} />)}
      {leftFallClouds.map((s, i) => <path key={i} d={area(s) ?? ''} fill="#18b4f0" stroke="#0018c0" strokeWidth={0.9} />)}
      {leftBars.map((b, i) => {
        const next = leftBars[i + 1] ?? b;
        const prev = leftBars[i - 1] ?? b;
        const up = b[1] + b[2] >= prev[1] + prev[2];
        const mid = (b[1] + b[2]) / 2;
        return (
          <g key={i}>
            <line x1={leftX(b[0]) + 0.5} x2={leftX(b[0]) + 0.5} y1={leftMainY(b[1])} y2={leftMainY(b[2])}
              stroke={up ? '#e0130c' : '#111'} strokeWidth={1.1} />
            <line x1={leftX((b[0] + next[0]) / 2) + 0.5} x2={leftX((b[0] + next[0]) / 2) + 0.5}
              y1={leftMainY(up ? b[1] : mid)} y2={leftMainY(up ? mid : b[2])}
              stroke={up ? '#111' : '#b81e50'} strokeWidth={1} />
          </g>
        );
      })}
      <path d={pathOf(leftX, leftMainY, leftCenter)} fill="none" stroke="#ffff00" strokeWidth={2.8} />
      <path d={pathOf(leftX, leftMainY, leftCenter)} fill="none" stroke="#e02c08" strokeWidth={1} />
      <path d={pathOf(leftX, leftMainY, leftSmallTrend)} fill="none" stroke="#0000e0" strokeWidth={2.2} />
      <path d={pathOf(leftX, leftMainY, leftMidTrend)} fill="none" stroke="#000" strokeWidth={2.3} />

      <Sq x={14} y={103} />
      <Txt x={25} y={111} s={12.6} c="#222">연결선물지수</Txt>
      <Sq x={103} y={103} />
      <Txt x={115} y={111} s={12.6} c="#e00000">小 추세</Txt>
      <Txt x={160} y={111} s={12.6} c="#0000e0">中 추세</Txt>
      <Txt x={209} y={111} s={12.6} c="#0000e0">小 추세 전환</Txt>
      <Txt x={284} y={111} s={11.5} f={LAT}>+76,4%</Txt>
      <Txt x={331} y={111} s={11.5} f={LAT} c="#0000e0">-23,4%</Txt>
      <Sq x={374} y={103} />
      <Txt x={385} y={111} s={12.6} c="#ffff00">중심값</Txt>
      <Txt x={429} y={111} s={12.6} c="#e00000">.</Txt>

      <Txt x={371} y={132} s={12} c="#e00000">최고 240,20 (14:39)</Txt>
      <Arrow x1={479} x2={leftX(485)} y={leftMainY(1.675)} c="#e00000" />
      <Txt x={101} y={517} s={12} c="#0000c8">최저 234,45 (10:00)</Txt>
      <Arrow x1={208} x2={leftX(215)} y={leftMainY(-.725)} c="#0000c8" />

      <Txt x={587} y={108} s={11.5} f={LAT} c="#e00000">LC:1,81,</Txt>
      <Txt x={587} y={121} s={11.5} f={LAT}>HC:-0,62</Txt>
      <Axis scale={leftMainY} x0={586} ticks={leftPctTicks} minor={.075} digits={3} suffix="%" labelX={593} />
      <rect x={590} y={220} width={46} height={13} fill="#000" />
      <Txt x={593} y={231} s={12} f={LAT} c="#fff">238,70</Txt>
      <Txt x={594} y={243} s={11} f={LAT}>0,00%</Txt>

      <line x1={10} x2={638} y1={532.5} y2={532.5} stroke="#6a6a6a" />
      <line x1={10} x2={586} y1={leftMacdY(0)} y2={leftMacdY(0)} stroke="#7c7c7c" />
      <path d={pathOf(leftX, leftMacdY, leftMacd, true)} fill="none" stroke="#f07814" strokeWidth={1.1} />
      <path d={pathOf(leftX, leftMacdY, leftSignal, true)} fill="none" stroke="#7c1a90" strokeWidth={1.1} />
      <Txt x={16} y={546} s={12.5} f={LAT} c="#f07814">MACD</Txt>
      <Txt x={61} y={546} s={12.6} c="#8a1a8a">시그널</Txt>
      <Axis scale={leftMacdY} x0={586} ticks={leftMacdTicks} minor={.05} digits={2} labelX={593} />
      <CloseBox x={632} y={540} />

      <line x1={10} x2={638} y1={723.5} y2={723.5} stroke="#6a6a6a" />
      <path d={pathOf(leftX, leftTrendY, leftUpTrend)} fill="none" stroke="#ffff00" strokeWidth={2.2} />
      <path d={pathOf(leftX, leftTrendY, leftDownTrend)} fill="none" stroke="#0000e0" strokeWidth={2.2} />
      <Sq x={14} y={730} />
      <Txt x={25} y={737} s={12.6} c="#0000e0">단타하방추세</Txt>
      <Txt x={104} y={737} s={12.6} c="#ffff00">단타상방추세</Txt>
      <Axis scale={leftTrendY} x0={586} ticks={leftTrendTicks} minor={.25} digits={2} labelX={593} />
      <CloseBox x={632} y={731} />

      <rect x={10} y={885} width={628} height={17} fill="#d6e3f0" stroke="#667" strokeWidth={0.8} />
      <line x1={586} x2={586} y1={97} y2={902} stroke="#667" />
      {leftTimeSeps.map(s => <line key={s} x1={leftX(s)} x2={leftX(s)} y1={885} y2={902} stroke="#778" />)}
      {leftTimeTicks.map(([v, l, b]) => (
        <Txt key={l} x={leftX(v) + 1.5} y={898} s={b ? 12 : 11} f={LAT} w={b ? 'bold' : undefined} c="#222">{l}</Txt>
      ))}
      <line x1={585} x2={585} y1={885} y2={902} stroke="#778" />
      <Txt x={594} y={898} s={11.5} f={LAT} c="#222">15:04:58</Txt>
    </g>
  );
};

const RightChart = () => {
  const dots = candles.map(c => (c[0] + c[1]) / 2);
  const polygon = (top: P[], bottom: P[]) =>
    pathOf(rightX, rightMainY, [...top, ...[...bottom].reverse()]) + 'Z';
  const dotRow = (values: number[], color: string) =>
    dots.map((d, i) => {
      const v = d < 312 ? values[0] : values[1];
      return <rect key={i} x={rightX(d) - 1} y={rightMainY(v) - 1} width={2} height={2} fill={color} />;
    });
  return (
    <g>
      <rect x={648} y={97} width={581} height={787} fill="#c0c0c0" />
      <rect x={1229} y={97} width={51} height={787} fill="#d6e3f0" />
      {fallCloudTops.map((t, i) => <path key={i} d={polygon(t, fallCloudBottoms[i])} fill="#3a6ae8" stroke="#000" strokeWidth={0.9} />)}
      {riseCloudTops.map((t, i) => <path key={i} d={polygon(t, riseCloudBottoms[i])} fill="#ffff00" stroke="#000" strokeWidth={0.9} />)}
      {dotRow(prevHigh, '#ffff00')}
      {dotRow(prevMid, '#00e000')}
      {dotRow(prevLow, '#0000e0')}
      {candles.map((c, i) => {
        const [a, b, o, cl, lo, hi] = c;
        const col = cl > o ? '#e6150f' : '#000';
        const mid = rightX((a + b) / 2);
        return (
          <g key={i}>
            <line x1={mid} x2={mid} y1={rightMainY(hi)} y2={rightMainY(lo)} stroke={col} strokeWidth={1} />
            <rect x={rightX(a)} y={rightMainY(Math.max(o, cl))} width={Math.max(rightX(b) - rightX(a), 1)}
              height={Math.max(Math.abs(rightMainY(o) - rightMainY(cl)), 1)} fill={col} />
          </g>
        );
      })}
      <path d={pathOf(rightX, rightMainY, longAverage)} fill="none" stroke="#0000e0" strokeWidth={2} />

      <Sq x={650} y={103} />
      <Txt x={660} y={111} s={12} f={LAT} c="#222">F 201209</Txt>
      <Sq x={714} y={103} />
      <Txt x={726} y={111} s={12.6}>단기이평</Txt>
      <Txt x={782} y={111} s={12.6}>단기역이평</Txt>
      <Txt x={850} y={111} s={12.6}>값이하</Txt>
      <Txt x={894} y={111} s={12.6} c="#0000e0">장기이평</Txt>
      <Sq x={946} y={103} />
      <Txt x={958} y={111} s={12.6} c="#0000e0">전저</Txt>
      <Txt x={990} y={111} s={12.6} c="#ffff00">전고</Txt>
      <Txt x={1023} y={111} s={12.6} c="#00e000">전저+전고</Txt>

      <Arrow x1={703} x2={rightX(40)} y={rightMainY(241.52)} c="#e00000" />
      <Txt x={703} y={162} s={12} c="#e00000">최고 241,60 (10:10)</Txt>
      <Txt x={901} y={488} s={12} c="#0000c8">최저 234,45 (10:00)</Txt>
      <Arrow x1={1008} x2={rightX(376)} y={rightMainY(234.52)} c="#0000c8" />

      <Txt x={1230} y={108} s={11.5} f={LAT} c="#e00000">LC:1,81</Txt>
      <Txt x={1230} y={121} s={11.5} f={LAT}>HC:-1,20</Txt>
      <Axis scale={rightMainY} x0={1229} ticks={rightPriceTicks} minor={.25} digits={2} labelX={1237} />
      <rect x={1234} y={282} width={40} height={13} fill="#000" />
      <Txt x={1236} y={293} s={12} f={LAT} c="#fff">238,70</Txt>
      <Txt x={1238} y={305} s={11} f={LAT}>0,00%</Txt>

      <line x1={648} x2={1280} y1={533.5} y2={533.5} stroke="#6a6a6a" />
      <line x1={648} x2={1229} y1={rightMacdY(0)} y2={rightMacdY(0)} stroke="#000" strokeWidth={2.6} />
      <path d={pathOf(rightX, rightMacdY, rightMacd, true)} fill="none" stroke="#e8102c" strokeWidth={1.1} />
      <path d={pathOf(rightX, rightMacdY, rightSignal, true)} fill="none" stroke="#000" strokeWidth={1.1} />
      <Txt x={654} y={546} s={12.5} f={LAT} c="#e8102c">MACD</Txt>
      <Txt x={699} y={546} s={12.6}>시그널</Txt>
      <Axis scale={rightMacdY} x0={1229} ticks={rightMacdTicks} minor={.1} digits={2} labelX={1237} />
      <CloseBox x={1271} y={540} />

      <line x1={648} x2={1280} y1={720.5} y2={720.5} stroke="#6a6a6a" />
      <path d={pathOf(rightX, rightTrendY, rightUpTrend)} fill="none" stroke="#ffff00" strokeWidth={2.2} />
      <path d={pathOf(rightX, rightTrendY, rightDownTrend)} fill="none" stroke="#0000e0" strokeWidth={2.2} />
      <Sq x={651} y={727} />
      <Txt x={662} y={734} s={12.6} c="#0000e0">단타하방추세</Txt>
      <Txt x={741} y={734} s={12.6} c="#ffff00">단타상방추세</Txt>
      <Axis scale={rightTrendY} x0={1229} ticks={rightTrendTicks} minor={.5} digits={2} labelX={1237} />
      <CloseBox x={1271} y={728} />

      <rect x={648} y={884} width={632} height={17} fill="#d6e3f0" stroke="#667" strokeWidth={0.8} />
      <line x1={1229} x2={1229} y1={97} y2={901} stroke="#667" />
      {rightTimeSeps.map(s => <line key={s} x1={rightX(s)} x2={rightX(s)} y1={884} y2={901} stroke="#778" />)}
      {rightTimeTicks.map(([v, l, b]) => (
        <Txt key={`${v}`} x={rightX(v) + 1.5} y={897} s={b ? 12 : 12.5} f={LAT} w={b ? 'bold' : undefined} c="#222">{l}</Txt>
      ))}
      <line x1={1230} x2={1230} y1={884} y2={901} stroke="#778" />
      <Txt x={1240} y={897} s={11.5} f={LAT} c="#222">15:15:0</Txt>
    </g>
  );
};

export default function App() {
  return (
    <svg width={1284} height={929} viewBox="0 0 1284 929"
      style={{ position: 'absolute', left: 0, top: 0, display: 'block', background: '#eef0e4' }}>
      <defs>
        <pattern id="dither" width={2} height={2} patternUnits="userSpaceOnUse">
          <rect width={2} height={2} fill="#f4f4ec" />
          <rect width={1} height={1} fill="#c8c8c0" />
          <rect x={1} y={1} width={1} height={1} fill="#c8c8c0" />
        </pattern>
      </defs>
      <rect x={0} y={0} width={1284} height={4} fill="#f6f6ee" />
      <rect x={185} y={-2} width={48} height={5} fill="#ddd" stroke="#888" />
      <rect x={0} y={4} width={1284} height={76} fill="#d3dfc2" />
      <rect x={0} y={80} width={1284} height={8} fill="#d9e4cc" />
      <rect x={0} y={88} width={1284} height={9} fill="#eef0e6" />
      <rect x={0} y={88} width={4} height={841} fill="#777" />
      <rect x={4} y={88} width={6} height={841} fill="#e8e8d8" />
      <rect x={640} y={80} width={5} height={849} fill="#e8ecd8" />
      <line x1={644} x2={644} y1={88} y2={925} stroke="#c03030" strokeWidth={1.5} />
      <line x1={644} x2={1284} y1={925} y2={925} stroke="#c03030" strokeWidth={1.5} />
      <Toolbar dx={0} code="10100000" name="연결선물" nameSize={15.5} nameX={186} buttons={leftButtons} box="300" boxX={500} />
      <Toolbar dx={638} selected code="101G9000" name="F  201209" nameSize={14} nameX={825} buttons={rightButtons} box="5" boxX={1139} />
      <LeftChart />
      <RightChart />
      <ScrollBar x0={9} thumb0={225} thumb1={325} play={327} sliderX={394} knob={419} iconX={471} plotEnd={638} />
      <ScrollBar x0={647} thumb0={917} thumb1={963} play={965} sliderX={1033} knob={1046} iconX={1109} plotEnd={1280} />
    </svg>
  );
}
